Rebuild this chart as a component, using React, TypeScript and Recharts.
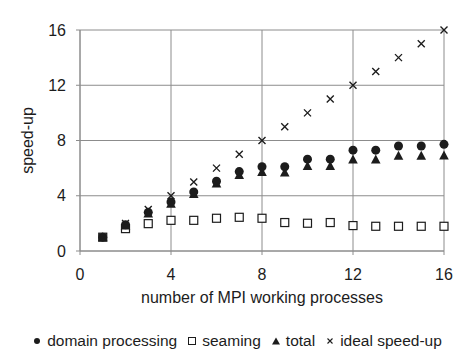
import { ScatterChart, Scatter, XAxis, YAxis, CartesianGrid, Label } from 'recharts';

const FONT = "'Liberation Sans', Arial, sans-serif";
const INK = '#1c1c1c';
const GRID = '#8c8c8c';

// number of MPI working processes
const processes = [1, 2, 3, 4, 5, 6, 7, 8, 9, 10, 11, 12, 13, 14, 15, 16];
const domainProcessing = [1, 1.9, 2.8, 3.55, 4.28, 5.05, 5.75, 6.1, 6.1, 6.65, 6.65, 7.3, 7.3, 7.6, 7.6, 7.72];
const seaming = [1, 1.62, 1.98, 2.22, 2.22, 2.37, 2.44, 2.37, 2.06, 2.01, 2.06, 1.84, 1.79, 1.79, 1.79, 1.79];
const total = [1, 1.85, 2.72, 3.42, 4.12, 4.88, 5.5, 5.72, 5.68, 6.16, 6.16, 6.63, 6.63, 6.89, 6.89, 6.92];
const idealSpeedUp = [1, 2, 3, 4, 5, 6, 7, 8, 9, 10, 11, 12, 13, 14, 15, 16];

const ticks = [0, 4, 8, 12, 16];

const toPoints = (ys: number[]) => processes.map((x, i) => ({ x, y: ys[i] }));

type P = { cx?: number; cy?: number };

const Dot = ({ cx = 0, cy = 0 }: P) => <circle cx={cx} cy={cy} r={4.5} fill={INK} />;
const OpenSquare = ({ cx = 0, cy = 0 }: P) => (
  <rect x={cx - 4} y={cy - 4} width={8} height={8} fill="#fff" stroke={INK} strokeWidth={1.2} />
);
const Tri = ({ cx = 0, cy = 0 }: P) => (
  <polygon points={`${cx},${cy - 5} ${cx + 4.8},${cy + 4} ${cx - 4.8},${cy + 4}`} fill={INK} />
);
const Cross = ({ cx = 0, cy = 0 }: P) => (
  <path d={`M${cx - 3.5},${cy - 3.5}L${cx + 3.5},${cy + 3.5}M${cx + 3.5},${cy - 3.5}L${cx - 3.5},${cy + 3.5}`} stroke={INK} strokeWidth={1.4} />
);

const tickStyle = { fill: INK, fontSize: 16, fontFamily: FONT };

const legendItems = [
  { name: 'domain processing', icon: <circle cx={5} cy={5} r={3} fill={INK} /> },
  { name: 'seaming', icon: <rect x={1.5} y={1.5} width={7} height={7} fill="#fff" stroke={INK} strokeWidth={1} /> },
  { name: 'total', icon: <polygon points="5,1.5 9,8.5 1,8.5" fill={INK} /> },
  { name: 'ideal speed-up', icon: <path d="M2.5,2.5L7.5,7.5M7.5,2.5L2.5,7.5" stroke={INK} strokeWidth={1.1} /> },
];

export default function App() {
  return (
    <div style={{ position: 'absolute', left: 0, top: 0, width: 474, height: 363, background: '#fff', fontFamily: FONT }}>
      <ScatterChart width={474} height={320} margin={{ top: 30, right: 30, bottom: 0, left: 0 }}>
        <CartesianGrid stroke={GRID} strokeWidth={1} />
        <XAxis
          type="number"
          dataKey="x"
          domain={[0, 16]}
          ticks={ticks}
          height={69}
          tick={tickStyle}
          tickSize={4}
          tickMargin={14}
          axisLine={{ stroke: GRID }}
          tickLine={{ stroke: GRID }}
        >
          <Label value="number of MPI working processes" position="insideTop" offset={41} style={{ fill: INK, fontSize: 16, fontFamily: FONT }} />
        </XAxis>
        <YAxis
          type="number"
          dataKey="y"
          domain={[0, 16]}
          ticks={ticks}
          width={80}
          tick={tickStyle}
          tickSize={4}
          tickMargin={10}
          axisLine={{ stroke: GRID }}
          tickLine={{ stroke: GRID }}
        >
          <Label value="speed-up" angle={-90} position="insideLeft" offset={27} style={{ fill: INK, fontSize: 16, fontFamily: FONT, textAnchor: 'middle' }} />
        </YAxis>
        <Scatter name="seaming" data={toPoints(seaming)} shape={OpenSquare} isAnimationActive={false} />
        <Scatter name="total" data={toPoints(total)} shape={Tri} isAnimationActive={false} />
        <Scatter name="domain processing" data={toPoints(domainProcessing)} shape={Dot} isAnimationActive={false} />
        <Scatter name="ideal speed-up" data={toPoints(idealSpeedUp)} shape={Cross} isAnimationActive={false} />
      </ScatterChart>
      {/* legend row */}
      <div
        style={{
          position: 'absolute', top: 332, left: 0, width: 474,
          display: 'flex', justifyContent: 'center', alignItems: 'center',
          fontSize: 15.5, color: INK, whiteSpace: 'nowrap',
        }}
      >
        {legendItems.map((it, i) => (
          <span key={it.name} style={{ display: 'inline-flex', alignItems: 'center', marginLeft: i ? 10 : 0 }}>
            <svg width={10} height={10} style={{ marginRight: 5 }}>{it.icon}</svg>
            {it.name}
          </span>
        ))}
      </div>
    </div>
  );
}
